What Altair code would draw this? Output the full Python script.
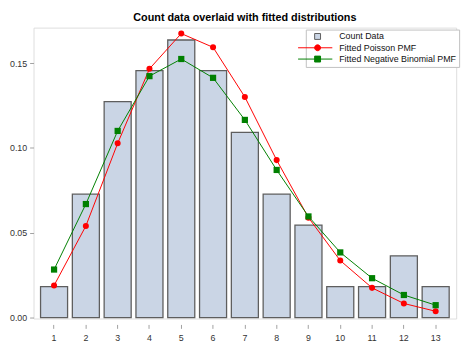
import altair as alt
import pandas as pd

# ---- data ----
x_vals = list(range(1, 14))
count_data = [0.0182, 0.0727, 0.1273, 0.1455, 0.1636, 0.1455, 0.1091,
              0.0727, 0.0545, 0.0182, 0.0182, 0.0364, 0.0182]
poisson_pmf = [0.0189, 0.0540, 0.1027, 0.1466, 0.1674, 0.1593, 0.1300,
               0.0928, 0.0589, 0.0336, 0.0175, 0.0083, 0.0037]
negbin_pmf = [0.0283, 0.0669, 0.1100, 0.1423, 0.1524, 0.1413, 0.1165,
              0.0870, 0.0596, 0.0384, 0.0232, 0.0133, 0.0073]
series_names = ["Count Data", "Fitted Poisson PMF", "Fitted Negative Binomial PMF"]
y_ticks = [0.0, 0.05, 0.10, 0.15]

rows = []
for name, vals in zip(series_names, [count_data, poisson_pmf, negbin_pmf]):
    for xv, v in zip(x_vals, vals):
        rows.append({"x": xv, "value": v, "series": name})
df = pd.DataFrame(rows)

FONT = "Liberation Sans"
BAR_FILL = "#CAD5E5"
BAR_STROKE = "#5E5E5E"
RED = "#FF0000"
GREEN = "#008000"

xscale = alt.Scale(type="band", domain=x_vals, range=[0, 430],
                   paddingInner=0.15, paddingOuter=0.22)
yscale = alt.Scale(domain=[-0.00058, 0.1709], nice=False, zero=False, padding=0)

xaxis = alt.Axis(title=None, grid=False, domain=False, labelAngle=0, bandPosition=0.5,
                 offset=6, tickSize=4, tickColor="#A0A0A0", labelPadding=5,
                 labelOverlap=False, labelFlush=False,
                 labelFontSize=9, labelFont=FONT, labelColor="#333333")
yaxis = alt.Axis(values=y_ticks, tickCount=10, format=".2f", title=None, grid=False, domain=False,
                 tickSize=4, tickColor="#A0A0A0", labelPadding=3,
                 labelOverlap=False, labelFlush=False,
                 labelFontSize=9, labelFont=FONT, labelColor="#333333")

base = alt.Chart(df)

bars = base.transform_filter(alt.datum.series == "Count Data").mark_bar(
    fill=BAR_FILL, stroke=BAR_STROKE, strokeWidth=1.3
).encode(
    x=alt.X("x:O", scale=xscale, axis=xaxis),
    y=alt.Y("value:Q", scale=yscale, axis=yaxis),
)

def fitted(name, color, shape, size):
    sub = base.transform_filter(alt.datum.series == name)
    line = sub.mark_line(color=color, strokeWidth=1).encode(
        x=alt.X("x:O", scale=xscale), y=alt.Y("value:Q", scale=yscale))
    pts = sub.mark_point(shape=shape, filled=True, color=color, size=size, opacity=1).encode(
        x=alt.X("x:O", scale=xscale), y=alt.Y("value:Q", scale=yscale))
    return line, pts

p_line, p_pts = fitted("Fitted Poisson PMF", RED, "circle", 38)
n_line, n_pts = fitted("Fitted Negative Binomial PMF", GREEN, "square", 40)

# legend symbols (custom paths: line + marker)
sq = "M0.443,-0.667h1.334v1.334h-1.334Z"
circ = "M0.443,0a0.667,0.667 0 1,0 1.334,0a0.667,0.667 0 1,0 -1.334,0Z"
ln = "M-3.3,0H4.44"
legend_shapes = [sq, ln + circ, ln + sq]

legend = alt.Legend(title=None, orient="none", legendX=277, legendY=2,
                    strokeColor="#C0C0C0", fillColor="white", padding=2,
                    symbolSize=81, symbolStrokeWidth=1, labelOffset=22,
                    labelFont=FONT, labelFontSize=9, labelColor="#111111",
                    rowPadding=-0.5)

legend_layer = base.transform_filter(alt.datum.series == "none").mark_point(
    filled=True, opacity=1, strokeWidth=1
).encode(
    x=alt.X("x:O", scale=xscale),
    y=alt.Y("value:Q", scale=yscale),
    shape=alt.Shape("series:N", scale=alt.Scale(domain=series_names, range=legend_shapes), legend=legend),
    fill=alt.Fill("series:N", scale=alt.Scale(domain=series_names, range=[BAR_FILL, RED, GREEN]), legend=legend),
    stroke=alt.Stroke("series:N", scale=alt.Scale(domain=series_names, range=[BAR_STROKE, RED, GREEN]), legend=legend),
)

chart = alt.layer(bars, p_line, p_pts, n_line, n_pts, legend_layer).properties(
    width=430, height=296,
    title=alt.TitleParams("Count data overlaid with fitted distributions",
                          font=FONT, fontSize=11, fontWeight="bold", color="#000000",
                          anchor="middle", frame="group", baseline="alphabetic", offset=6, dy=10),
    autosize=alt.AutoSizeParams(type="none"),
    padding={"left": 26, "top": 17, "right": 10, "bottom": 26},
).configure_view(stroke="#B0B0B0", strokeWidth=1).configure(background="white")

chart.save("out.html", embed_options={"renderer": "svg", "actions": False})
